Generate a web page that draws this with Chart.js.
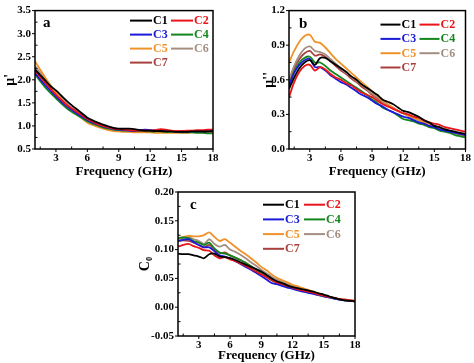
<!DOCTYPE html>
<html>
<head>
<meta charset="utf-8">
<script src="https://cdn.jsdelivr.net/npm/chart.js@4.4.1/dist/chart.umd.min.js"></script>
<style>
  body { margin: 0; background: #fff; width: 474px; height: 363px; overflow: hidden; position: relative; }
  .p { position: absolute; }
</style>
</head>
<body>
<div class="p" style="left:0;top:0"><canvas id="ca" width="237" height="180"></canvas></div>
<div class="p" style="left:237px;top:0"><canvas id="cb" width="237" height="180"></canvas></div>
<div class="p" style="left:125px;top:180px"><canvas id="cc" width="250" height="183"></canvas></div>
<script>
// frequency (GHz)
const freq = [1,1.5,2,2.5,3,3.5,4,4.5,5,5.5,6,6.5,7,7.5,8,8.5,9,9.5,10,10.5,11,11.5,12,12.5,13,13.5,14,14.5,15,15.5,16,16.5,17,17.5,18];
const names = ['C1','C2','C3','C4','C5','C6','C7'];
const colors = ['#000000','#e8161a','#1a1adb','#14861e','#f0922a','#a48e80','#a8403e'];

const xTicks = [3,6,9,12,15,18];
const aTicks = [0.5,1.0,1.5,2.0,2.5,3.0,3.5];
const bTicks = [0.0,0.3,0.6,0.9,1.2];
const cTicks = [-0.05,0.00,0.05,0.10,0.15,0.20];

// a: mu'
const a1 = [2.22,2.1,1.98,1.86,1.77,1.66,1.55,1.45,1.36,1.27,1.18,1.12,1.07,1.03,0.99,0.96,0.94,0.94,0.94,0.93,0.91,0.9,0.9,0.89,0.89,0.88,0.88,0.87,0.87,0.87,0.88,0.88,0.88,0.88,0.89];
const a2 = [2.2,2.06,1.93,1.8,1.68,1.57,1.46,1.38,1.3,1.23,1.15,1.09,1.04,1.0,0.97,0.94,0.93,0.92,0.91,0.9,0.9,0.9,0.9,0.91,0.93,0.92,0.9,0.89,0.89,0.9,0.9,0.91,0.91,0.92,0.92];
const a3 = [2.15,2.01,1.88,1.76,1.64,1.53,1.43,1.35,1.27,1.2,1.13,1.07,1.03,0.99,0.96,0.93,0.92,0.91,0.9,0.89,0.91,0.92,0.91,0.9,0.9,0.89,0.89,0.88,0.88,0.88,0.88,0.88,0.88,0.88,0.88];
const a4 = [2.12,1.97,1.83,1.71,1.6,1.49,1.39,1.31,1.24,1.17,1.1,1.05,1.01,0.97,0.94,0.92,0.91,0.9,0.9,0.89,0.89,0.89,0.88,0.88,0.88,0.87,0.87,0.87,0.86,0.86,0.86,0.85,0.85,0.84,0.84];
const a5 = [2.4,2.22,2.04,1.88,1.72,1.58,1.46,1.35,1.25,1.16,1.07,1.02,0.98,0.94,0.91,0.89,0.88,0.87,0.87,0.86,0.86,0.86,0.86,0.85,0.85,0.85,0.85,0.85,0.85,0.85,0.86,0.86,0.86,0.86,0.87];
const a6 = [2.3,2.15,2.0,1.86,1.72,1.6,1.49,1.39,1.3,1.21,1.13,1.07,1.02,0.98,0.95,0.93,0.91,0.9,0.89,0.89,0.88,0.88,0.88,0.87,0.87,0.87,0.87,0.87,0.87,0.87,0.87,0.87,0.88,0.88,0.88];
const a7 = [2.25,2.1,1.96,1.83,1.7,1.58,1.48,1.39,1.31,1.23,1.15,1.09,1.04,1.0,0.96,0.94,0.92,0.91,0.9,0.89,0.89,0.88,0.88,0.88,0.88,0.88,0.88,0.88,0.88,0.88,0.89,0.89,0.89,0.9,0.9];

// b: mu''
const b1 = [0.52,0.62,0.7,0.75,0.77,0.73,0.79,0.79,0.76,0.73,0.7,0.67,0.63,0.6,0.56,0.53,0.5,0.47,0.43,0.41,0.39,0.36,0.33,0.32,0.3,0.28,0.25,0.23,0.2,0.19,0.17,0.16,0.15,0.14,0.13];
const b2 = [0.45,0.58,0.67,0.72,0.73,0.68,0.71,0.69,0.65,0.62,0.6,0.57,0.55,0.52,0.49,0.47,0.45,0.42,0.39,0.37,0.35,0.33,0.31,0.3,0.28,0.27,0.25,0.23,0.22,0.21,0.19,0.18,0.17,0.16,0.15];
const b3 = [0.55,0.66,0.73,0.77,0.78,0.71,0.71,0.68,0.64,0.61,0.58,0.56,0.53,0.5,0.47,0.45,0.42,0.39,0.37,0.34,0.32,0.3,0.28,0.27,0.25,0.23,0.22,0.2,0.19,0.17,0.16,0.15,0.14,0.13,0.12];
const b4 = [0.55,0.67,0.75,0.79,0.8,0.75,0.75,0.72,0.68,0.65,0.62,0.59,0.56,0.53,0.5,0.47,0.43,0.4,0.36,0.34,0.32,0.29,0.26,0.25,0.24,0.22,0.21,0.19,0.18,0.16,0.15,0.14,0.12,0.11,0.1];
const b5 = [0.75,0.85,0.93,0.98,0.99,0.93,0.92,0.88,0.83,0.78,0.74,0.7,0.66,0.62,0.58,0.54,0.5,0.46,0.42,0.39,0.36,0.33,0.31,0.29,0.27,0.25,0.23,0.21,0.19,0.18,0.16,0.15,0.14,0.12,0.11];
const b6 = [0.6,0.72,0.81,0.87,0.89,0.85,0.84,0.82,0.78,0.74,0.7,0.66,0.63,0.59,0.56,0.52,0.48,0.45,0.41,0.38,0.36,0.33,0.31,0.29,0.27,0.25,0.23,0.21,0.19,0.18,0.16,0.15,0.14,0.12,0.11];
const b7 = [0.58,0.7,0.78,0.83,0.85,0.81,0.82,0.8,0.76,0.72,0.68,0.65,0.61,0.58,0.54,0.51,0.47,0.44,0.4,0.38,0.35,0.33,0.31,0.29,0.27,0.25,0.23,0.21,0.2,0.18,0.17,0.15,0.14,0.13,0.12];

// c: C0
const c1 = [0.093,0.092,0.092,0.09,0.088,0.085,0.092,0.093,0.088,0.087,0.085,0.082,0.078,0.074,0.07,0.066,0.062,0.056,0.05,0.045,0.042,0.038,0.035,0.033,0.031,0.029,0.027,0.024,0.022,0.019,0.016,0.014,0.012,0.011,0.01];
const c2 = [0.105,0.108,0.11,0.106,0.103,0.099,0.098,0.09,0.085,0.087,0.083,0.08,0.076,0.072,0.067,0.062,0.057,0.052,0.047,0.043,0.04,0.037,0.034,0.031,0.029,0.027,0.025,0.022,0.02,0.018,0.016,0.014,0.013,0.012,0.011];
const c3 = [0.115,0.117,0.118,0.113,0.108,0.104,0.104,0.097,0.09,0.088,0.085,0.08,0.075,0.07,0.065,0.06,0.054,0.048,0.042,0.04,0.037,0.034,0.032,0.029,0.027,0.025,0.023,0.021,0.019,0.017,0.015,0.013,0.012,0.011,0.01];
const c4 = [0.12,0.121,0.12,0.115,0.112,0.108,0.112,0.102,0.095,0.093,0.09,0.086,0.082,0.077,0.071,0.065,0.059,0.053,0.047,0.043,0.039,0.036,0.033,0.03,0.028,0.026,0.024,0.021,0.019,0.017,0.015,0.013,0.012,0.011,0.01];
const c5 = [0.12,0.122,0.124,0.123,0.123,0.125,0.13,0.122,0.115,0.118,0.112,0.105,0.098,0.092,0.085,0.078,0.07,0.064,0.057,0.051,0.047,0.043,0.039,0.036,0.033,0.03,0.027,0.024,0.021,0.018,0.016,0.014,0.013,0.012,0.011];
const c6 = [0.118,0.12,0.122,0.118,0.115,0.11,0.118,0.11,0.105,0.108,0.1,0.096,0.091,0.085,0.078,0.072,0.065,0.059,0.053,0.048,0.044,0.04,0.037,0.034,0.031,0.028,0.025,0.023,0.02,0.018,0.016,0.014,0.013,0.012,0.011];
const c7 = [0.115,0.116,0.115,0.112,0.108,0.104,0.108,0.1,0.094,0.095,0.09,0.086,0.082,0.077,0.071,0.066,0.06,0.055,0.049,0.045,0.041,0.037,0.034,0.031,0.029,0.027,0.025,0.022,0.02,0.018,0.016,0.014,0.013,0.012,0.011];

const FONT = "'Liberation Serif', 'Times New Roman', serif";
Chart.defaults.font.family = FONT;
Chart.defaults.font.weight = 'bold';
Chart.defaults.color = '#000';

// frame, ticks, in-plot legend and panel letter
const deco = {
  id: 'deco',
  afterDatasetsDraw(chart, args, o) {
    const { ctx, chartArea: a, scales: { x, y } } = chart;
    ctx.save();
    ctx.strokeStyle = '#000';
    ctx.lineWidth = 1.5;
    ctx.strokeRect(a.left, a.top, a.right - a.left, a.bottom - a.top);

    ctx.lineWidth = 1;
    ctx.beginPath();
    o.xt.forEach(v => {
      const px = x.getPixelForValue(v);
      ctx.moveTo(px, a.bottom); ctx.lineTo(px, a.bottom + 3);
      const pm = x.getPixelForValue(v - 1.5);
      ctx.moveTo(pm, a.bottom); ctx.lineTo(pm, a.bottom - 2.5);
    });
    o.yt.forEach((v, i) => {
      const py = y.getPixelForValue(v);
      ctx.moveTo(a.left, py); ctx.lineTo(a.left - 3, py);
      if (i > 0) {
        const pm = y.getPixelForValue((v + o.yt[i - 1]) / 2);
        ctx.moveTo(a.left, pm); ctx.lineTo(a.left + 2.5, pm);
      }
    });
    ctx.stroke();

    ctx.font = 'bold 15px ' + FONT;
    ctx.textBaseline = 'middle';
    ctx.textAlign = 'left';
    ctx.fillStyle = '#000';
    ctx.fillText(o.letter, a.left + o.lx, a.top + o.ly);

    ctx.font = 'bold 12px ' + FONT;
    chart.data.datasets.forEach((ds, i) => {
      const x0 = a.right - o.cols[i % 2];
      const y0 = a.top + o.row0 + Math.floor(i / 2) * o.dy;
      ctx.strokeStyle = ds.borderColor;
      ctx.lineWidth = 2;
      ctx.beginPath();
      ctx.moveTo(x0, y0); ctx.lineTo(x0 + o.len, y0);
      ctx.stroke();
      ctx.fillStyle = ds.borderColor;
      ctx.fillText(ds.label, x0 + o.len + 1, y0 + 0.5);
    });
    ctx.restore();
  }
};

function makePanel(id, series, yTicks, yMin, yMax, dec, yTitle, box, legend) {
  new Chart(document.getElementById(id), {
    type: 'line',
    data: {
      datasets: series.map((s, i) => ({
        label: names[i],
        data: freq.map((f, k) => ({ x: f, y: s[k] })),
        borderColor: colors[i],
        borderWidth: 1.8,
        pointRadius: 0,
        tension: 0.3,
        fill: false
      }))
    },
    options: {
      responsive: false,
      animation: false,
      events: [],
      layout: { padding: { top: box.top, right: box.right, left: 0, bottom: 0 } },
      plugins: { legend: { display: false }, tooltip: { enabled: false }, deco: legend },
      scales: {
        x: {
          type: 'linear', min: 1, max: 18,
          afterBuildTicks: s => { s.ticks = xTicks.map(v => ({ value: v })); },
          afterFit: s => { s.height = box.xh; },
          grid: { display: false, drawTicks: false },
          border: { display: false },
          ticks: { padding: 3, font: { size: 11, weight: 'bold' }, callback: v => String(v) },
          title: { display: true, text: 'Frequency (GHz)', font: { size: 13, weight: 'bold' }, padding: { top: 0, bottom: box.tb } }
        },
        y: {
          min: yMin, max: yMax,
          afterBuildTicks: s => { s.ticks = yTicks.map(v => ({ value: v })); },
          afterFit: s => { s.width = box.yw; },
          grid: { display: false, drawTicks: false },
          border: { display: false },
          ticks: { padding: 4, font: { size: 11, weight: 'bold' }, callback: v => v.toFixed(dec) },
          title: { display: true, text: yTitle, font: { size: 14, weight: 'bold' }, padding: { top: box.tl, bottom: 0 } }
        }
      }
    },
    plugins: [deco]
  });
}

makePanel('ca', [a1,a2,a3,a4,a5,a6,a7], aTicks, 0.5, 3.5, 1, "\u03bc'",
  { top: 6, right: 24, xh: 31, yw: 35, tb: 1, tl: 2 },
  { xt: xTicks, yt: aTicks, letter: 'a', lx: 8, ly: 13, cols: [83, 42], len: 22, row0: 10, dy: 14 });

makePanel('cb', [b1,b2,b3,b4,b5,b6,b7], bTicks, 0, 1.2, 1, "\u03bc''",
  { top: 6, right: 8, xh: 31, yw: 52, tb: 1, tl: 24 },
  { xt: xTicks, yt: bTicks, letter: 'b', lx: 10, ly: 14, cols: [85, 46], len: 20, row0: 14, dy: 14.3 });

makePanel('cc', [c1,c2,c3,c4,c5,c6,c7], cTicks, -0.05, 0.2, 2, "C\u2080",
  { top: 12, right: 20, xh: 27, yw: 53, tb: 0, tl: 12 },
  { xt: xTicks, yt: cTicks, letter: 'c', lx: 12, ly: 13, cols: [92, 51], len: 21, row0: 12.7, dy: 14.7 });
</script>
</body>
</html>
